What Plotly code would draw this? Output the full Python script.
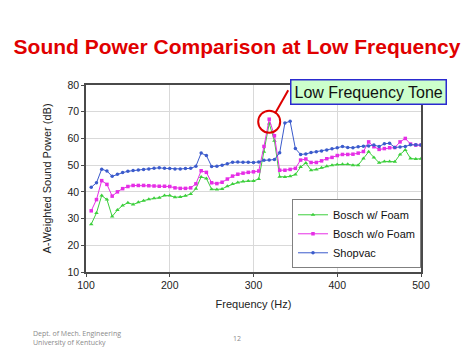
import plotly.graph_objects as go

# ---------------- data ----------------
freq_hz = [106.25, 112.5, 118.75, 125, 131.25, 137.5, 143.75, 150, 156.25, 162.5,
           168.75, 175, 181.25, 187.5, 193.75, 200, 206.25, 212.5, 218.75, 225,
           231.25, 237.5, 243.75, 250, 256.25, 262.5, 268.75, 275, 281.25, 287.5,
           293.75, 300, 306.25, 312.5, 318.75, 325, 331.25, 337.5, 343.75, 350,
           356.25, 362.5, 368.75, 375, 381.25, 387.5, 393.75, 400, 406.25, 412.5,
           418.75, 425, 431.25, 437.5, 443.75, 450, 456.25, 462.5, 468.75, 475,
           481.25, 487.5, 493.75, 500]

bosch_foam = [27.9, 32.1, 38.6, 37.1, 30.8, 33.2, 34.9, 35.9, 35.3, 36.1,
              36.7, 37.2, 37.6, 37.8, 38.6, 38.6, 38.0, 38.1, 38.5, 39.2,
              41.2, 45.6, 45.0, 41.0, 40.9, 41.1, 42.1, 42.9, 43.5, 43.9,
              44.1, 44.1, 44.8, 55.0, 65.6, 59.1, 45.7, 45.6, 45.8, 46.5,
              49.3, 50.8, 48.1, 48.4, 49.0, 49.6, 50.0, 50.2, 50.3, 50.3,
              50.0, 50.0, 52.5, 55.0, 52.9, 50.9, 51.4, 51.4, 51.3, 54.0,
              55.7, 52.5, 52.3, 52.4]

bosch_nofoam = [32.9, 37.1, 44.2, 42.8, 38.4, 40.0, 41.2, 42.0, 42.4, 42.4,
                42.4, 42.3, 42.2, 42.1, 42.1, 42.0, 41.5, 41.3, 41.3, 41.5,
                43.0, 47.9, 47.3, 43.4, 43.1, 43.6, 44.8, 45.9, 46.6, 47.0,
                47.3, 47.5, 47.8, 57.0, 67.2, 61.0, 48.1, 48.1, 48.4, 48.8,
                51.9, 52.3, 51.0, 51.0, 51.6, 52.4, 52.9, 53.6, 54.0, 54.0,
                54.1, 54.5, 55.1, 58.7, 56.9, 55.9, 56.2, 56.5, 56.6, 58.7,
                60.0, 57.9, 57.5, 57.5]

shopvac = [41.7, 43.4, 48.5, 47.8, 45.8, 46.6, 47.2, 47.7, 48.0, 48.2,
           48.4, 48.6, 48.8, 49.0, 48.8, 48.7, 48.6, 48.6, 48.7, 48.8,
           49.6, 54.5, 53.6, 49.5, 49.6, 50.0, 50.5, 51.1, 51.2, 51.1,
           51.1, 51.0, 51.2, 51.8, 51.9, 52.1, 54.6, 65.8, 66.4, 56.2,
           54.0, 54.2, 54.7, 55.0, 55.3, 55.7, 56.1, 56.5, 57.0, 56.6,
           56.5, 56.9, 57.1, 57.2, 57.5, 57.0, 58.0, 58.2, 56.6, 56.8,
           57.0, 57.6, 57.6, 57.5]

series_names = ["Bosch w/ Foam", "Bosch w/o Foam", "Shopvac"]
x_ticks = [100, 200, 300, 400, 500]
y_ticks = [10, 20, 30, 40, 50, 60, 70, 80]

title_text = "Sound Power Comparison at Low Frequency"
x_title = "Frequency (Hz)"
y_title = "A-Weighted Sound Power (dB)"
callout_text = "Low Frequency Tone"
footer_lines = ["Dept. of Mech. Engineering", "University of Kentucky"]
page_number = "12"

# ---------------- layout helpers ----------------
W, H = 474, 355
L, R, T, B = 85.5, 421.0, 85.0, 271.7


def px_x(px):
    return (px - L) / (R - L)


def px_y(py):
    return (B - py) / (B - T)


FONT = "Liberation Sans, Arial, sans-serif"

fig = go.Figure()
styles = [
    dict(color="#3ccf3c", symbol="triangle-up", size=4),
    dict(color="#e62ee6", symbol="square", size=3.5),
    dict(color="#3b5bcc", symbol="circle", size=3.5),
]
for name, vals, st in zip(series_names, [bosch_foam, bosch_nofoam, shopvac], styles):
    fig.add_trace(go.Scatter(
        x=freq_hz, y=vals, name=name, mode="lines+markers",
        line=dict(color=st["color"], width=1),
        marker=dict(color=st["color"], symbol=st["symbol"], size=st["size"],
                    line=dict(width=0)),
    ))

axis_common = dict(
    showgrid=True, gridcolor="#d9d9d9", gridwidth=1,
    showline=True, linecolor="#4a4a4a", linewidth=1.5, mirror=True,
    ticks="outside", ticklen=3, tickcolor="#4a4a4a",
    tickfont=dict(family=FONT, size=10.5, color="#222"),
    zeroline=False,
)

fig.update_layout(
    width=W, height=H, autosize=False,
    margin=dict(l=L, r=W - R, t=T, b=H - B, pad=0),
    paper_bgcolor="white", plot_bgcolor="white",
    title=dict(text=f"<b>{title_text}</b>", x=0.5, xanchor="center",
               y=1 - 47 / H, yanchor="middle",
               font=dict(family=FONT, size=21, color="#e00000")),
    xaxis=dict(range=[100, 500], tickvals=x_ticks, ticktext=[str(v) for v in x_ticks],
               title=dict(text=x_title, standoff=10,
                          font=dict(family=FONT, size=11, color="#222")),
               **axis_common),
    yaxis=dict(range=[10, 80], tickvals=y_ticks, ticktext=[str(v) for v in y_ticks],
               title=dict(text=y_title, standoff=14,
                          font=dict(family=FONT, size=11, color="#222")),
               **axis_common),
    legend=dict(x=1.0, xanchor="right", y=px_y(268), yanchor="bottom",
                bgcolor="white", bordercolor="#808080", borderwidth=1,
                font=dict(family=FONT, size=11, color="#111"),
                itemwidth=30, tracegroupgap=0),
    showlegend=True,
)

# callout: circle around the tone peak (anchored to the data peak)
peak_i = bosch_nofoam.index(max(bosch_nofoam))
peak_f = freq_hz[peak_i]
peak_v = bosch_nofoam[peak_i]
fig.add_shape(type="circle", xref="x", yref="y",
              xsizemode="pixel", ysizemode="pixel",
              xanchor=peak_f, yanchor=peak_v,
              x0=-11, x1=11, y0=-13.5, y1=8.5,
              line=dict(color="#dd0000", width=2))
fig.add_shape(type="line", xref="x", yref="y",
              xsizemode="pixel", ysizemode="pixel",
              xanchor=peak_f, yanchor=peak_v,
              x0=6, y0=6, x1=19, y1=29,
              line=dict(color="#dd0000", width=2))

fig.add_annotation(xref="paper", yref="paper",
                   x=px_x(368.5), y=px_y(91.5), xanchor="center", yanchor="middle",
                   text=callout_text, showarrow=False,
                   font=dict(family=FONT, size=16, color="#111"),
                   bgcolor="#ccffcc", bordercolor="#2a2ad0", borderwidth=1.5,
                   borderpad=3)

# footer
fig.add_annotation(xref="paper", yref="paper", x=px_x(30), y=px_y(338),
                   xanchor="left", yanchor="middle", align="left",
                   text="<br>".join(footer_lines), showarrow=False,
                   font=dict(family="Open Sans, sans-serif", size=7, color="#8a8a8a"))
fig.add_annotation(xref="paper", yref="paper", x=px_x(237), y=px_y(338),
                   xanchor="center", yanchor="middle",
                   text=page_number, showarrow=False,
                   font=dict(family="Open Sans, sans-serif", size=7, color="#8a8a8a"))

fig.write_html("out.html",
               config={"displayModeBar": False},
               post_script="document.body.style.margin='0';document.body.style.overflow='hidden';")
